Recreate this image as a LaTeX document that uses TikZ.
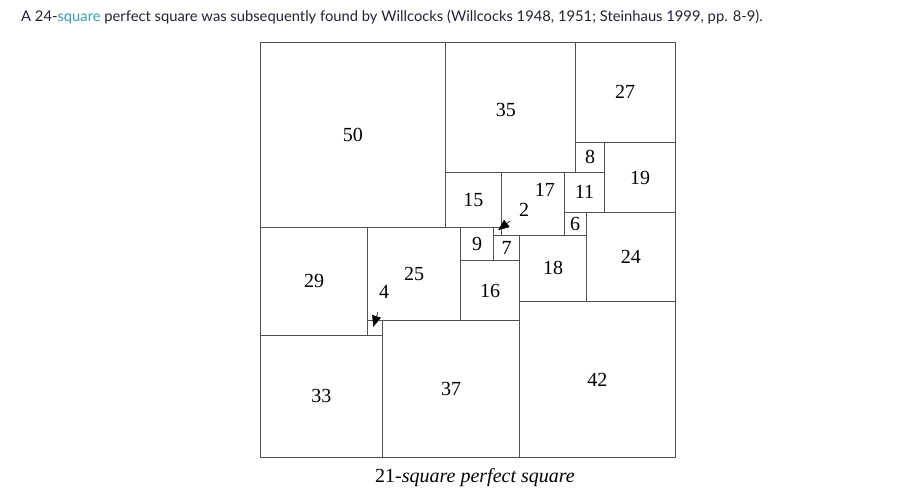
\documentclass[tikz,border=0pt]{standalone}
\usepackage{fontspec}
\setmainfont{Liberation Serif}
\newfontfamily\headfont{Lato}
\usetikzlibrary{arrows.meta}
\definecolor{edgegray}{HTML}{505050}
\definecolor{linkteal}{HTML}{3A9CB0}
\definecolor{textdark}{HTML}{222233}

\begin{document}
\begin{tikzpicture}[x=1pt,y=-1pt,
    tile/.style={draw=edgegray,line width=0.9pt},
    num/.style={font=\fontsize{20}{20}\selectfont,inner sep=0pt},
    ptr/.style={-{Triangle[length=11pt,width=9pt]},line width=0.6pt}]
  \useasboundingbox (0,0) rectangle (900,501);
  \node[anchor=west,inner sep=0pt,text=textdark,
    font=\headfont\fontsize{14.75}{16}\selectfont] (head) at (21,17)
    {A 24-\textcolor{linkteal}{square} perfect square was subsequently found by Willcocks (Willcocks 1948, 1951; Steinhaus 1999, pp. 8-9).};

  % the 21 tiles, in units of the 112 side
  \begin{scope}[shift={(260.3,42.3)},x=3.705pt,y=-3.705pt]
    \foreach \px/\py/\s in {0/0/50,50/0/35,85/0/27,85/27/8,93/27/19,
        50/35/15,65/35/17,82/35/11,82/46/6,88/46/24,63/50/2,
        54/50/9,63/52/7,70/52/18,54/59/16,0/50/29,29/50/25,
        29/75/4,0/79/33,33/75/37,70/70/42}
      \draw[tile] (\px,\py) rectangle ++(\s,\s);
    \foreach \px/\py/\s in {0/0/50,85/0/27,85/27/8,93/27/19,
        50/35/15,82/35/11,82/46/6,88/46/24,54/50/9,63/52/7,
        70/52/18,54/59/16,0/50/29,29/50/25,0/79/33,33/75/37,70/70/42}
      \node[num] (n\s) at (\px+\s/2,\py+\s/2) {\s};
    \node[num] (n35) at (66.3,18.3) {35};
    \node[num] (n17) at (76.8,39.9) {17};
    \node[num] (n2) at (71.2,45.3) {2};
    \node[num] (n4) at (33.4,67.4) {4};
    \coordinate (sq2) at (64.2,50.7);
    \coordinate (sq4) at (30.5,76.8);
    \draw[ptr,shorten <=11pt] (n2) -- (sq2);
    \draw[ptr,shorten <=14pt] (n4) -- (sq4);
  \end{scope}

  \node[font=\fontsize{20}{20}\selectfont] (caption) at (475,478)
    {21-\textit{square perfect square}};
\end{tikzpicture}
\end{document}
